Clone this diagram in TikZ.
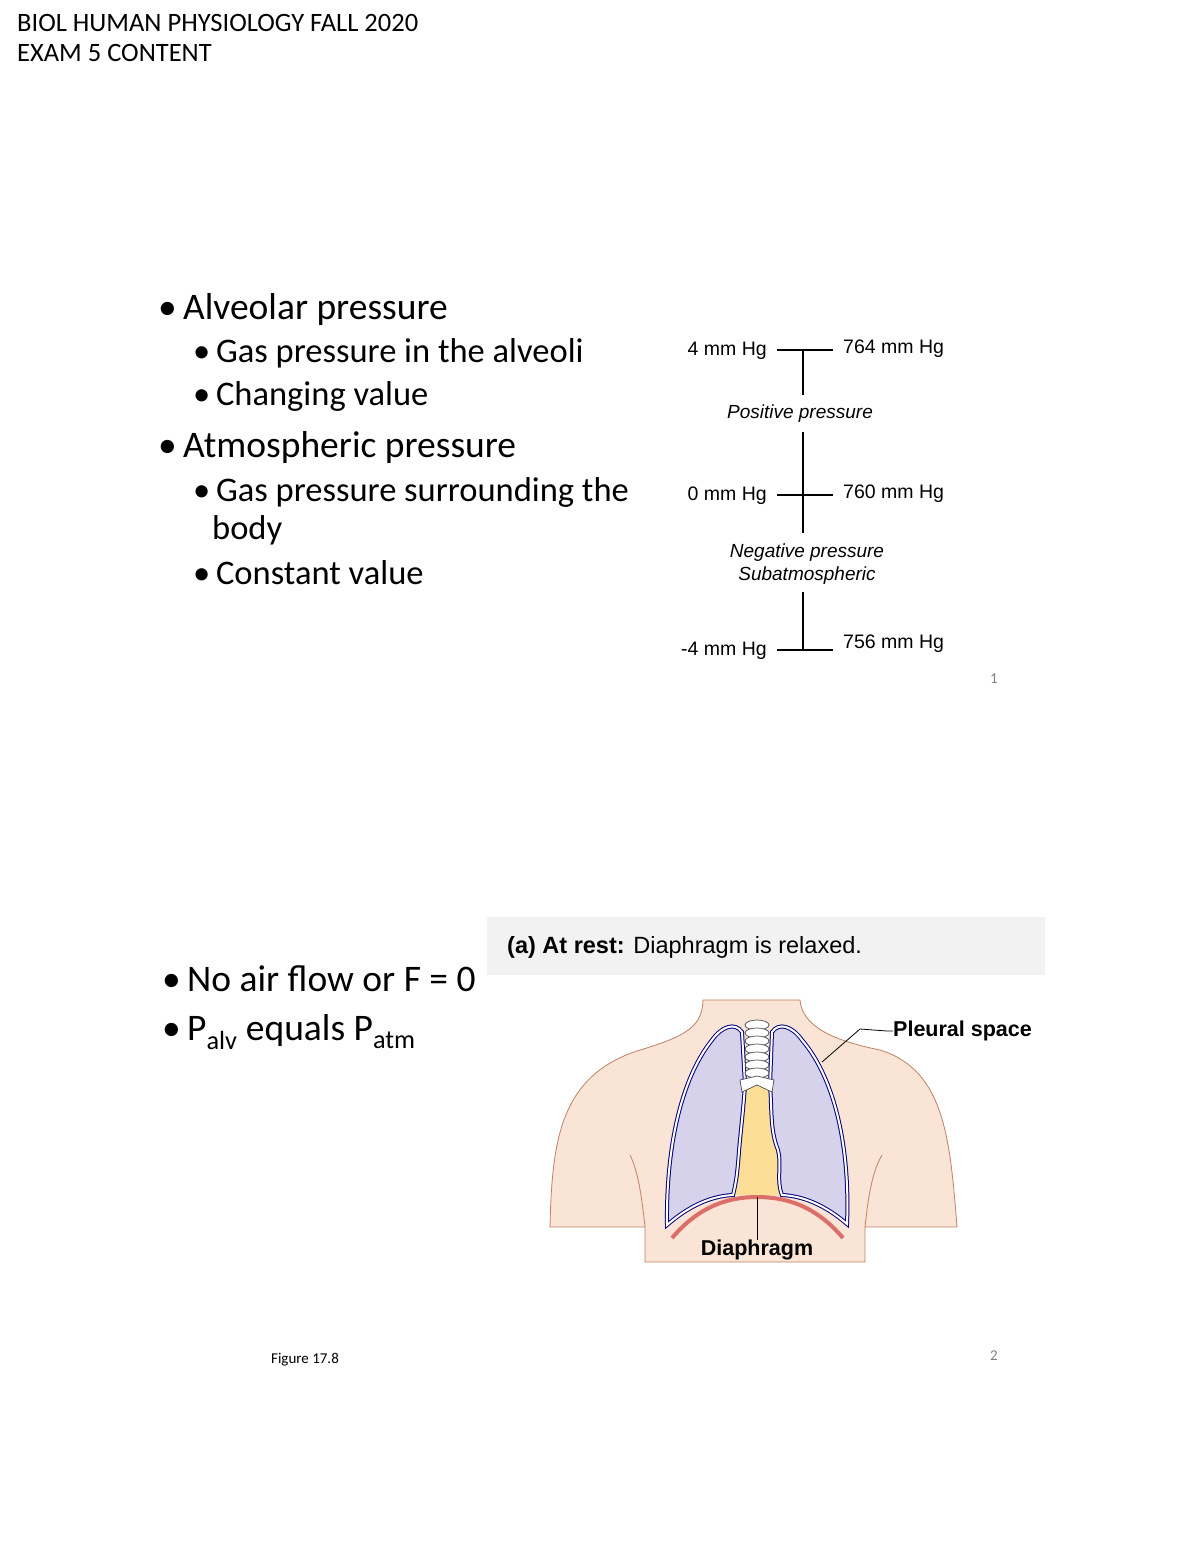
\documentclass[tikz,border=0pt]{standalone}
\usepackage{fontspec}
\setmainfont{Carlito}
\newfontfamily\arial{Liberation Sans}
\definecolor{skinc}{RGB}{250,228,214}
\definecolor{skinl}{RGB}{190,130,100}
\definecolor{lungc}{RGB}{215,210,236}
\definecolor{medc}{RGB}{253,222,150}
\definecolor{diac}{RGB}{220,110,105}
\begin{document}
\begin{tikzpicture}[x=1pt,y=-1pt,
  lbl/.style={font=\arial\fontsize{19.5}{22}\selectfont,inner sep=0pt},
  ilbl/.style={font=\arial\itshape\fontsize{19}{23}\selectfont,inner sep=0pt,align=center},
  b1/.style={font=\fontsize{37.5}{40}\selectfont,anchor=west,inner sep=0pt},
  b2/.style={font=\fontsize{34.5}{36}\selectfont,anchor=west,inner sep=0pt,align=left},
  skin/.style={fill=skinc,draw=skinl,line width=0.8pt},
  lung/.style={fill=lungc,draw=blue!50!black,line width=1pt},
  chart/.style={line width=1.6pt}]
\useasboundingbox (0,0) rectangle (1200,1553);
\fill[white] (0,0) rectangle (1200,1553);
\node[anchor=west,font=\fontsize{26.5}{28}\selectfont,inner sep=0pt] (h1) at (17,23) {BIOL HUMAN PHYSIOLOGY FALL 2020};
\node[anchor=west,font=\fontsize{26.5}{28}\selectfont,inner sep=0pt] (h2) at (17,53) {EXAM 5 CONTENT};
% slide 1
\node[b1] (a1) at (158,309) {\textbullet\,Alveolar pressure};
\node[b2] (a2) at (193,353) {\textbullet\,Gas pressure in the alveoli};
\node[b2] (a3) at (193,396) {\textbullet\,Changing value};
\node[b1] (a4) at (158,447) {\textbullet\,Atmospheric pressure};
\node[b2] (a5) at (193,492) {\textbullet\,Gas pressure surrounding the};
\node[b2] (a6) at (212,530) {body};
\node[b2] (a7) at (193,573) {\textbullet\,Constant value};
% chart
\coordinate (t1l) at (777,350); \coordinate (t1r) at (833,350);
\coordinate (t2l) at (777,495); \coordinate (t2r) at (833,495);
\coordinate (t3l) at (777,650); \coordinate (t3r) at (833,650);
\draw[chart] (t1l)--(t1r); \draw[chart] (t2l)--(t2r); \draw[chart] (t3l)--(t3r);
\draw[chart] (803,350)--(803,395);
\draw[chart] (803,432)--(803,533);
\draw[chart] (803,592)--(803,650);
\node[lbl,anchor=east] (p1) at (767,351) {4 mm Hg};
\node[lbl,anchor=west] (q1) at (843,349) {764 mm Hg};
\node[ilbl] (pp) at (800,414) {Positive pressure};
\node[lbl,anchor=east] (p2) at (767,496) {0 mm Hg};
\node[lbl,anchor=west] (q2) at (843,494) {760 mm Hg};
\node[ilbl] (np) at (807,564) {Negative pressure\\Subatmospheric};
\node[lbl,anchor=east] (p3) at (767,651) {-4 mm Hg};
\node[lbl,anchor=west] (q3) at (843,644) {756 mm Hg};
\node[font=\fontsize{15}{18}\selectfont,text=gray] (n1) at (994,679) {1};
% slide 2
\node[b1] (c1) at (162,979) {\textbullet\,No air flow or F = 0};
\node[b1] (c2) at (162,1032) {\textbullet\,P\textsubscript{alv} equals P\textsubscript{atm}};
\node[font=\fontsize{15}{18}\selectfont] (fig) at (305,1360) {Figure 17.8};
\node[font=\fontsize{15}{18}\selectfont,text=gray] (n2) at (994,1356) {2};
\fill[gray!10] (487,917) rectangle (1045,975);
\node[anchor=west,font=\arial\fontsize{23.5}{26}\selectfont,inner sep=0pt] (hd) at (507,947) {\textbf{(a) At rest:} Diaphragm is relaxed.};
% body
\path[skin] (645,1262) -- (645,1227) -- (550,1227) .. controls (552,1140) and (560,1075) .. (640,1050)
  .. controls (690,1035) and (702,1025) .. (703,1000) -- (800,1000)
  .. controls (802,1025) and (830,1040) .. (880,1050)
  .. controls (945,1070) and (950,1140) .. (957,1227) -- (865,1227) -- (865,1262) -- cycle;
\draw[draw=skinl,line width=0.8pt] (630,1155) .. controls (640,1175) and (643,1210) .. (645,1227);
\draw[draw=skinl,line width=0.8pt] (882,1155) .. controls (870,1175) and (867,1210) .. (865,1227);
% mediastinum
\fill[medc] (745,1085) -- (770,1085) .. controls (772,1110) and (770,1130) .. (778,1150) .. controls (782,1165) and (776,1180) .. (782,1195) -- (733,1195) .. controls (738,1175) and (738,1160) .. (740,1140) .. controls (742,1120) and (744,1100) .. (745,1085) -- cycle;
% lungs
\draw[lung,double=white,double distance=2pt] (742,1032) .. controls (735,1022) and (722,1026) .. (712,1040)
  .. controls (680,1080) and (666,1150) .. (667,1225)
  .. controls (690,1205) and (712,1196) .. (733,1195)
  .. controls (738,1175) and (738,1160) .. (740,1140)
  .. controls (742,1120) and (744,1100) .. (745,1085) -- cycle;
\draw[lung,double=white,double distance=2pt] (772,1032) .. controls (779,1022) and (792,1026) .. (802,1040)
  .. controls (836,1080) and (850,1150) .. (847,1224)
  .. controls (825,1205) and (803,1196) .. (782,1195)
  .. controls (776,1180) and (782,1165) .. (778,1150)
  .. controls (770,1130) and (772,1110) .. (770,1085) -- cycle;
% trachea
\foreach \yy in {1025,1033,...,1073}{
  \draw[fill=white,draw=black!70,line width=0.7pt] (757,\yy) ellipse (12pt and 5pt);}
\draw[fill=white,draw=black!70,line width=0.7pt] (740,1080) -- (757,1076) -- (774,1080) -- (772,1092) -- (757,1085) -- (742,1092) -- cycle;
% diaphragm
\draw[line width=4pt,draw=diac] (672,1238) .. controls (700,1205) and (730,1197) .. (757,1197) .. controls (785,1197) and (815,1205) .. (843,1238);
% labels
\node[anchor=west,font=\arial\bfseries\fontsize{21.5}{25}\selectfont,inner sep=0pt] (ps) at (893,1031) {Pleural space};
\coordinate (psa) at (822,1062);
\draw[line width=0.8pt] (ps.west) -- ++(-6,0) -- (860,1029) -- (psa);
\node[font=\arial\bfseries\fontsize{21.5}{25}\selectfont,inner sep=0pt] (dl) at (757,1250) {Diaphragm};
\coordinate (da) at (757,1197);
\draw[line width=0.8pt] (dl.north) -- (da);
\end{tikzpicture}
\end{document}
